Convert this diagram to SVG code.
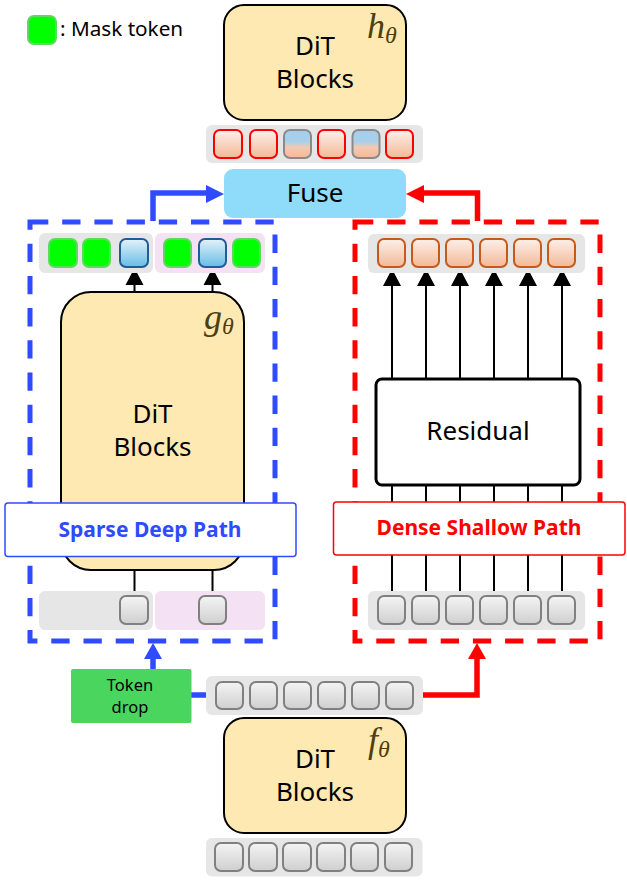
<svg xmlns="http://www.w3.org/2000/svg" width="627" height="880" viewBox="0 0 627 880">
<defs>
<linearGradient id="gGray" x1="0" y1="0" x2="0" y2="1"><stop offset="0" stop-color="#f4f4f4"/><stop offset="1" stop-color="#cfcfcf"/></linearGradient>
<linearGradient id="gBlue" x1="0" y1="0" x2="0" y2="1"><stop offset="0" stop-color="#e4f2fa"/><stop offset="1" stop-color="#66bce6"/></linearGradient>
<linearGradient id="gOrange" x1="0" y1="0" x2="0" y2="1"><stop offset="0" stop-color="#fdf0e9"/><stop offset="1" stop-color="#f3b898"/></linearGradient>
<linearGradient id="gMix" x1="0" y1="0" x2="0" y2="1"><stop offset="0" stop-color="#a6cdeb"/><stop offset="0.42" stop-color="#a9d0ea"/><stop offset="0.62" stop-color="#f5c9b0"/><stop offset="1" stop-color="#f3b898"/></linearGradient>
</defs>
<style>
text{font-family:"Noto Sans","Liberation Sans",sans-serif;fill:#000}
.bar{fill:#e6e6e6}
.pink{fill:#f5e1f4}
.tok{stroke-width:2}
.gray{fill:url(#gGray);stroke:#808080}
.blue{fill:url(#gBlue);stroke:#1f5c99}
.or{fill:url(#gOrange);stroke:#c55a1a}
.red{fill:url(#gOrange);stroke:#ff0000}
.mix{fill:url(#gMix);stroke:#8a8a8a}
.green{fill:#00ff00;stroke:#5fd85f}
.dit{fill:#fee9b2;stroke:#000;stroke-width:2}
.big{font-size:26px;text-anchor:middle}
.math{font-family:"Liberation Serif",serif;font-style:italic;fill:#4f3f0e;font-size:36px}
.sub{font-size:24px}
.line{stroke:#000;stroke-width:2;fill:none}
.frame{fill:none;stroke-width:5;stroke-dasharray:18.3 13.9}
.bc{fill:none;stroke:#2f4bff;stroke-width:5.500}
.rc{fill:none;stroke:#ff0000;stroke-width:5.500}
.path{font-size:21px;font-weight:700;text-anchor:middle}
</style>

<g id="legend">
<rect x="28" y="16" width="28" height="28" rx="6" class="tok green"/>
<text x="60" y="36" font-size="20.700">: Mask token</text>
</g>

<g id="frames">
<rect id="sparse-frame" x="30" y="222" width="245" height="419" class="frame" stroke="#2f4bff"/>
<rect id="dense-frame" x="355" y="222" width="245" height="419" class="frame" stroke="#ff0000"/>
</g>

<g id="connectors">
<path class="line" d="M134.500 295V284M212.500 295V284"/>
<path class="line" d="M134.500 567V597M212.500 567V597"/>
<path class="line" d="M392 379V286M426 379V286M460 379V286M494 379V286M528 379V286M562 379V286"/>
<path class="line" d="M392 485V597M426 485V597M460 485V597M494 485V597M528 485V597M562 485V597"/>
<path d="M125.500 285L134.500 268L143.500 285ZM203.500 285L212.500 268L221.500 285Z"/>
<path d="M383 286L392 269L401 286ZM417 286L426 269L435 286ZM451 286L460 269L469 286ZM485 286L494 269L503 286ZM519 286L528 269L537 286ZM553 286L562 269L571 286Z"/>
<path class="bc" d="M153 221V193H207"/>
<path d="M206 185L224 194L206 203Z" fill="#2f4bff"/>
<path class="rc" d="M477.500 221V193H423"/>
<path d="M424 185L406 194L424 203Z" fill="#ff0000"/>
<path class="bc" d="M153 669V658M191 695H206"/>
<path d="M144 659L153 643L162 659Z" fill="#2f4bff"/>
<path class="rc" d="M423 695H477V658"/>
<path d="M468 659L477 643L486 659Z" fill="#ff0000"/>
</g>

<g id="h-block">
<rect x="224" y="5" width="182" height="115" rx="20" class="dit"/>
<text x="315" y="55" class="big">DiT</text>
<text x="315" y="88" class="big">Blocks</text>
<text x="367" y="38" class="math">h<tspan class="sub" dy="5">θ</tspan></text>
</g>

<g id="fused-tokens">
<rect x="206" y="125" width="217" height="38" rx="6" class="bar"/>
<rect x="214" y="130" width="28" height="28" rx="6" class="tok red"/>
<rect x="250" y="130" width="27" height="28" rx="6" class="tok red"/>
<rect x="284" y="130" width="27" height="28" rx="6" class="tok mix"/>
<rect x="318" y="130" width="27" height="28" rx="6" class="tok red"/>
<rect x="352.500" y="130" width="27" height="28" rx="6" class="tok mix"/>
<rect x="386" y="130" width="27" height="28" rx="6" class="tok red"/>
</g>

<g id="fuse">
<rect x="224" y="169" width="182" height="49" rx="9" fill="#8fdbfa"/>
<text x="315" y="202" class="big">Fuse</text>
</g>

<g id="sparse-output-tokens">
<rect x="39" y="233" width="114" height="40" rx="6" class="bar"/>
<rect x="155" y="233" width="110" height="40" rx="6" class="pink"/>
<rect x="49" y="239" width="28" height="28" rx="6" class="tok green"/>
<rect x="83" y="239" width="27" height="28" rx="6" class="tok green"/>
<rect x="120" y="239" width="28" height="28" rx="6" class="tok blue"/>
<rect x="164" y="239" width="27" height="28" rx="6" class="tok green"/>
<rect x="199" y="239" width="27" height="28" rx="6" class="tok blue"/>
<rect x="233" y="239" width="27" height="28" rx="6" class="tok green"/>
</g>

<g id="g-block">
<rect x="61" y="292" width="183" height="278" rx="30" class="dit"/>
<text x="152.500" y="423" class="big">DiT</text>
<text x="152.500" y="456" class="big">Blocks</text>
<text x="204" y="329" class="math">g<tspan class="sub" dy="5">θ</tspan></text>
</g>

<g id="sparse-input-tokens">
<rect x="39" y="591" width="114" height="39" rx="6" class="bar"/>
<rect x="155" y="591" width="110" height="39" rx="6" class="pink"/>
<rect x="120" y="596" width="28" height="28" rx="6" class="tok gray"/>
<rect x="199" y="596" width="27" height="28" rx="6" class="tok gray"/>
</g>

<g id="sparse-label">
<rect x="5" y="503" width="291" height="53.500" rx="3" fill="#fff" stroke="#2f4bff" stroke-width="1.500"/>
<text x="150" y="537" class="path" style="fill:#2f4bff">Sparse Deep Path</text>
</g>

<g id="dense-output-tokens">
<rect x="368" y="234" width="217" height="39" rx="6" class="bar"/>
<rect x="378" y="239" width="27" height="28" rx="6" class="tok or"/>
<rect x="412" y="239" width="27" height="28" rx="6" class="tok or"/>
<rect x="446" y="239" width="27" height="28" rx="6" class="tok or"/>
<rect x="480" y="239" width="27" height="28" rx="6" class="tok or"/>
<rect x="514" y="239" width="27" height="28" rx="6" class="tok or"/>
<rect x="548" y="239" width="27" height="28" rx="6" class="tok or"/>
</g>

<g id="residual">
<rect x="376" y="379" width="204" height="106" rx="6" fill="#fff" stroke="#000" stroke-width="3"/>
<text x="478" y="440" class="big">Residual</text>
</g>

<g id="dense-input-tokens">
<rect x="368" y="591" width="217" height="39" rx="6" class="bar"/>
<rect x="378" y="596" width="27" height="28" rx="6" class="tok gray"/>
<rect x="412" y="596" width="27" height="28" rx="6" class="tok gray"/>
<rect x="446" y="596" width="27" height="28" rx="6" class="tok gray"/>
<rect x="480" y="596" width="27" height="28" rx="6" class="tok gray"/>
<rect x="514" y="596" width="27" height="28" rx="6" class="tok gray"/>
<rect x="548" y="596" width="27" height="28" rx="6" class="tok gray"/>
</g>

<g id="dense-label">
<rect x="333.500" y="502" width="291.500" height="53" rx="3" fill="#fff" stroke="#ff0000" stroke-width="1.500"/>
<text x="479" y="535" class="path" style="fill:#ff0000">Dense Shallow Path</text>
</g>

<g id="token-drop">
<rect x="71" y="669" width="120.500" height="54" rx="2" fill="#4ad65e"/>
<text x="130" y="691" font-size="16.500" text-anchor="middle">Token</text>
<text x="130" y="713" font-size="16.500" text-anchor="middle">drop</text>
</g>

<g id="encoder-output-tokens">
<rect x="206" y="676" width="217" height="39" rx="6" class="bar"/>
<rect x="216" y="682" width="27" height="27" rx="6" class="tok gray"/>
<rect x="250" y="682" width="27" height="27" rx="6" class="tok gray"/>
<rect x="284" y="682" width="27" height="27" rx="6" class="tok gray"/>
<rect x="318" y="682" width="27" height="27" rx="6" class="tok gray"/>
<rect x="352" y="682" width="27" height="27" rx="6" class="tok gray"/>
<rect x="386" y="682" width="27" height="27" rx="6" class="tok gray"/>
</g>

<g id="f-block">
<rect x="224" y="718" width="182" height="115" rx="20" class="dit"/>
<text x="315" y="768" class="big">DiT</text>
<text x="315" y="801" class="big">Blocks</text>
<text x="368" y="752" class="math">f<tspan class="sub" dy="5">θ</tspan></text>
</g>

<g id="encoder-input-tokens">
<rect x="206" y="838" width="216.500" height="38.500" rx="6" class="bar"/>
<rect x="215" y="843" width="28" height="28" rx="6" class="tok gray"/>
<rect x="249" y="843" width="28" height="28" rx="6" class="tok gray"/>
<rect x="283" y="843" width="28" height="28" rx="6" class="tok gray"/>
<rect x="317" y="843" width="28" height="28" rx="6" class="tok gray"/>
<rect x="351" y="843" width="27" height="28" rx="6" class="tok gray"/>
<rect x="385" y="843" width="27" height="28" rx="6" class="tok gray"/>
</g>
</svg>
